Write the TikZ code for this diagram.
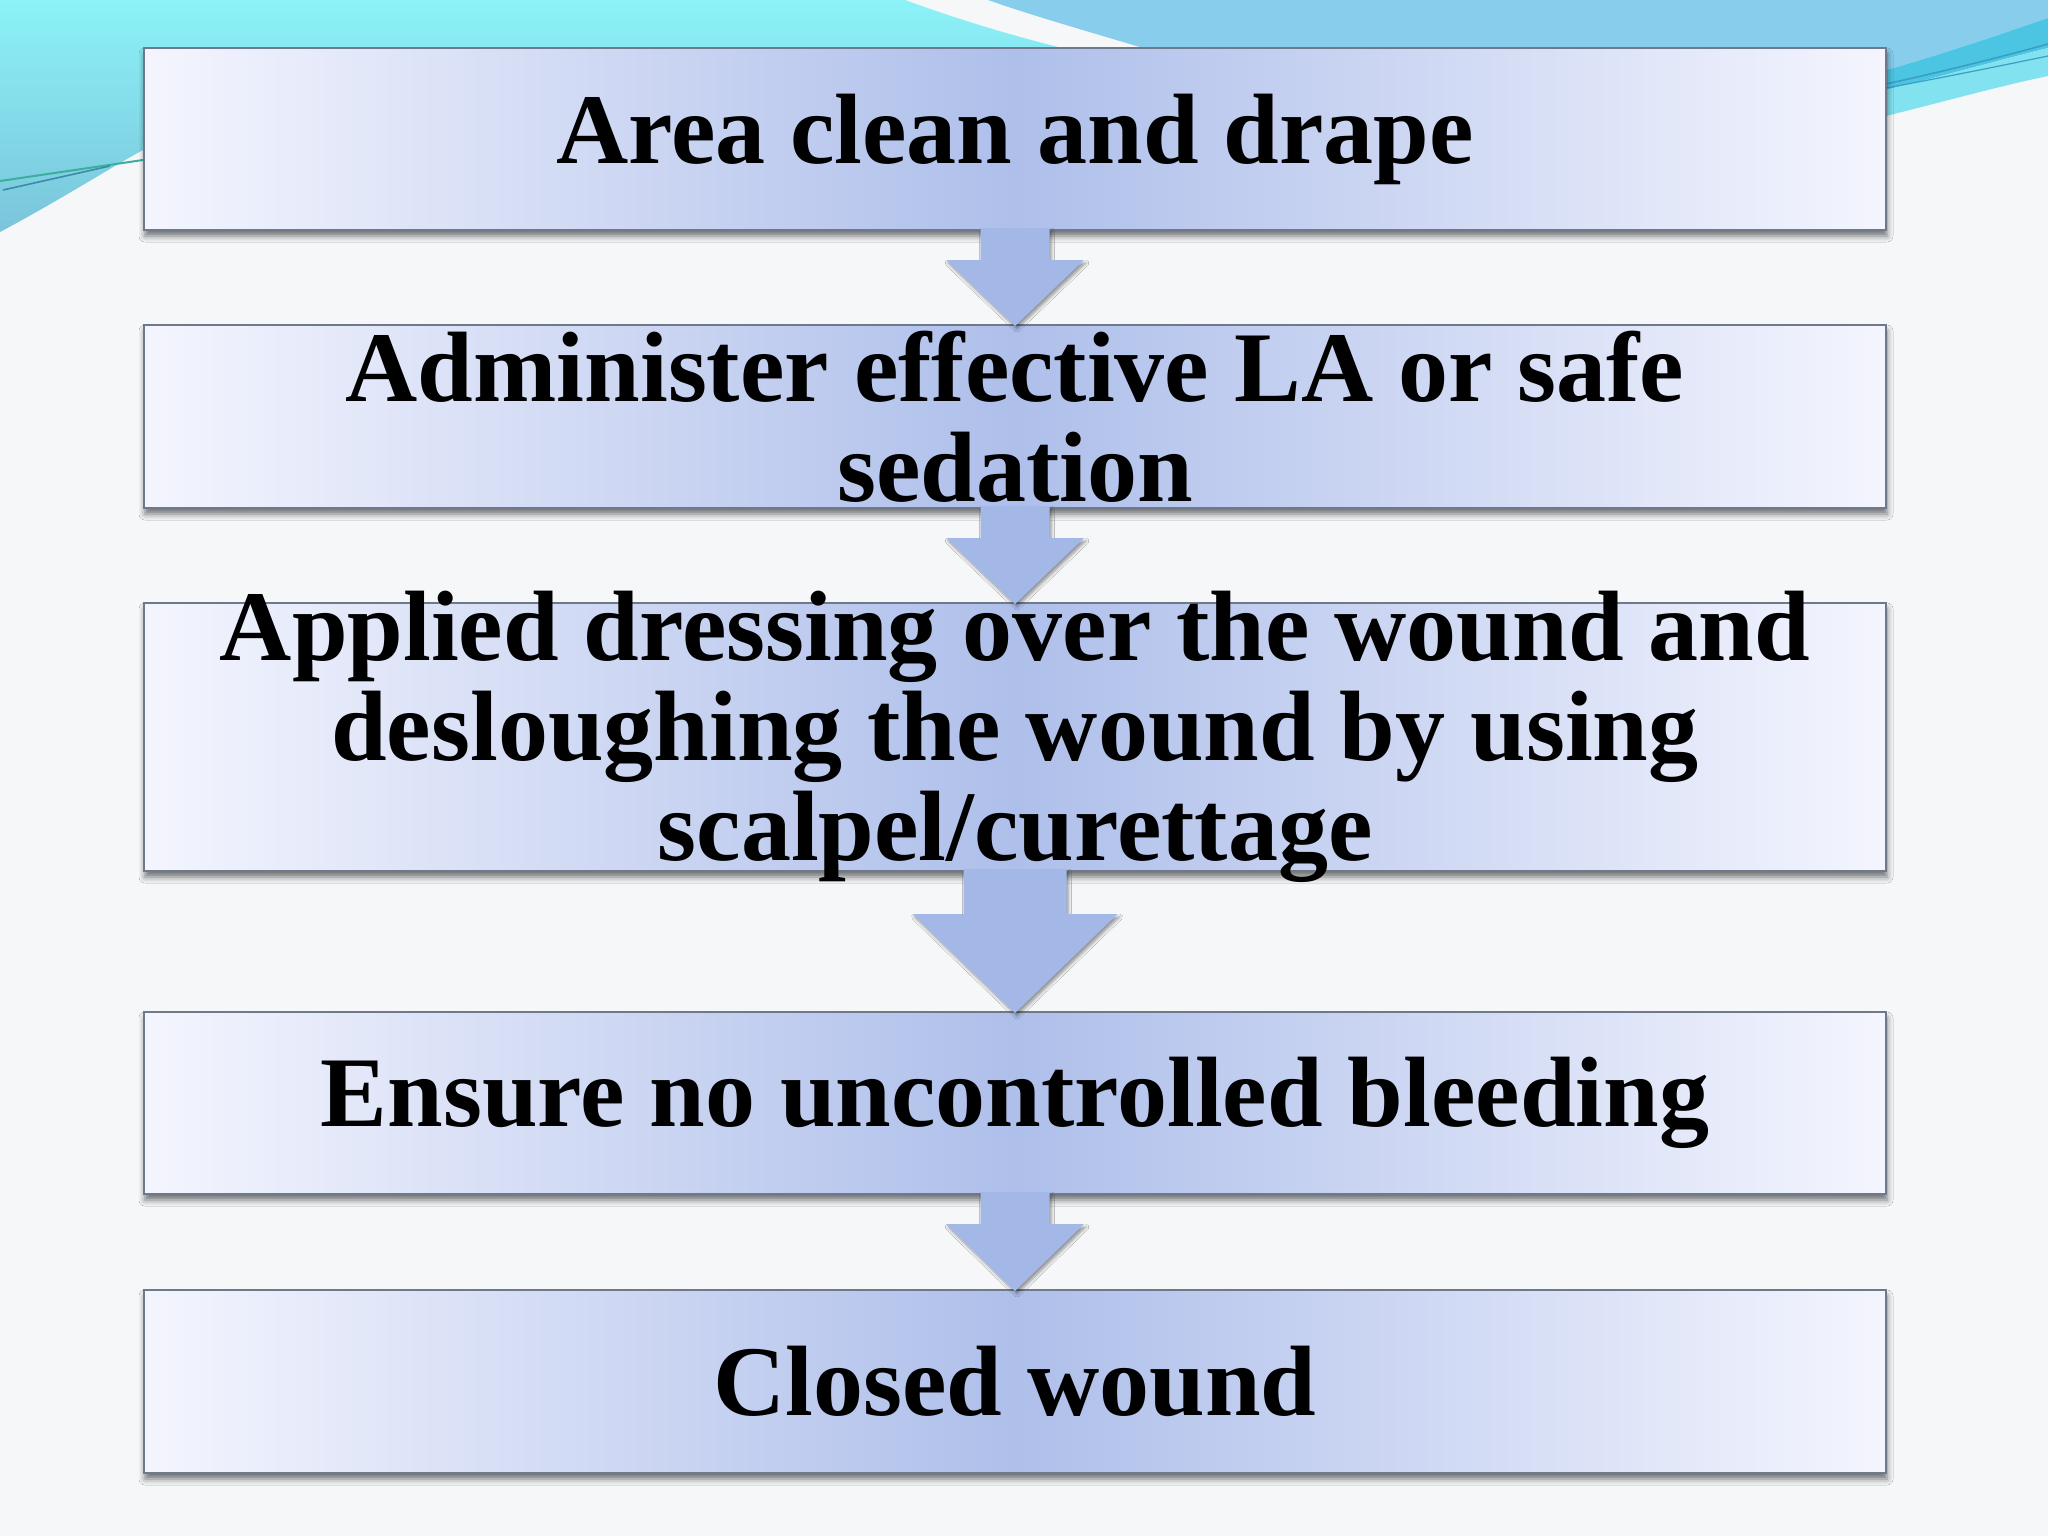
\documentclass[tikz,border=0pt]{standalone}
\usepackage{fontspec}
\setmainfont{Liberation Serif}
\usetikzlibrary{calc,shadows,shadows.blur}
\definecolor{bgwhite}{HTML}{F6F7F9}
\definecolor{cyantop}{HTML}{8CF2F8}
\definecolor{cyanbot}{HTML}{7AC4DA}
\definecolor{skyblue}{HTML}{88CEEC}
\definecolor{tealband}{HTML}{4CC5E3}
\definecolor{lightcyan}{HTML}{82E2EF}
\definecolor{boxedge}{HTML}{6E7A8C}
\definecolor{boxmid}{HTML}{AEBFEA}
\definecolor{boxside}{HTML}{F4F5FE}
\definecolor{arrowblue}{HTML}{A4B8E8}
\definecolor{greenline}{HTML}{3BAF9E}
\definecolor{darkteal}{HTML}{3A8CA8}
\definecolor{bandline}{HTML}{3A9FC2}
\newcommand\flowarrow[5]{%
  \path[arrowfill] ($(#1.south)+(-#3,-3)$) -- ($(#1.south)+(-#3,#5)$)
    -- ($(#1.south)+(-#4,#5)$) -- ($(#2.north)+(0,2)$)
    -- ($(#1.south)+(#4,#5)$) -- ($(#1.south)+(#3,#5)$)
    -- ($(#1.south)+(#3,-3)$) -- cycle;}
\tikzset{
  stepbox/.style={draw=boxedge, line width=1pt, rectangle,
    left color=boxside, right color=boxside, middle color=boxmid,
    minimum width=871pt, align=center, inner xsep=0pt, inner ysep=-12pt,
    font=\fontsize{50}{50}\selectfont\bfseries,
    blur shadow={shadow xshift=0.5pt, shadow yshift=-3pt, shadow blur radius=3pt, shadow opacity=55}},
  arrowfill/.style={fill=arrowblue,
    blur shadow={shadow xshift=1pt, shadow yshift=-1.5pt, shadow blur radius=1.5pt, shadow opacity=40}}
}
\begin{document}
\begin{tikzpicture}[x=0.5pt,y=-0.5pt]
\useasboundingbox (0,0) rectangle (2048,1536);
% background
\fill[bgwhite] (0,0) rectangle (2048,1536);
\shade[top color=cyantop, bottom color=cyanbot]
  (0,0) -- (905,0) .. controls (960,20) and (1010,35) .. (1062,48)
  -- (1062,150) -- (143,150) .. controls (110,168) and (60,200) .. (0,232) -- cycle;
\fill[skyblue] (988,0) -- (2048,0) -- (2048,18)
  .. controls (1990,38) and (1930,58) .. (1886,70) -- (1800,100) -- (1143,100) -- (1143,48)
  .. controls (1090,32) and (1030,15) .. (988,0) -- cycle;
\fill[tealband] (2048,18) .. controls (1990,38) and (1930,58) .. (1886,70) -- (1870,70) -- (1870,90) -- (1886,90)
  .. controls (1950,74) and (2000,60) .. (2048,48) -- cycle;
\fill[lightcyan] (2048,48) .. controls (2000,60) and (1950,74) .. (1886,90) -- (1870,90) -- (1870,116) -- (1886,116)
  .. controls (1950,100) and (2000,86) .. (2048,76) -- cycle;
\draw[bandline, line width=0.8pt] (2048,44) .. controls (1990,60) and (1940,72) .. (1886,84);
\draw[bandline, line width=0.6pt] (2048,56) .. controls (1990,68) and (1940,78) .. (1886,88);
\draw[greenline, line width=1pt] (0,181) -- (143,160);
\draw[darkteal, line width=0.8pt] (3,190) -- (110,166);
% boxes
\node[stepbox, minimum height=91pt] (b1) at (1015,139) {Area clean and drape};
\node[stepbox, minimum height=91.5pt] (b2) at (1015,416.5) {Administer effective LA or safe\\sedation};
\node[stepbox, minimum height=134pt] (b3) at (1015,737) {Applied dressing over the wound and\\desloughing the wound by using\\scalpel/curettage};
\node[stepbox, minimum height=91pt] (b4) at (1015,1103) {Ensure no uncontrolled bleeding};
\node[stepbox, minimum height=91.5pt] (b5) at (1015,1381.5) {Closed wound};
% arrows
\flowarrow{b1}{b2}{34.5}{69}{29}
\flowarrow{b2}{b3}{34.5}{69}{29}
\flowarrow{b3}{b4}{51.5}{102.5}{42}
\flowarrow{b4}{b5}{34.5}{69}{29}
\end{tikzpicture}
\end{document}
